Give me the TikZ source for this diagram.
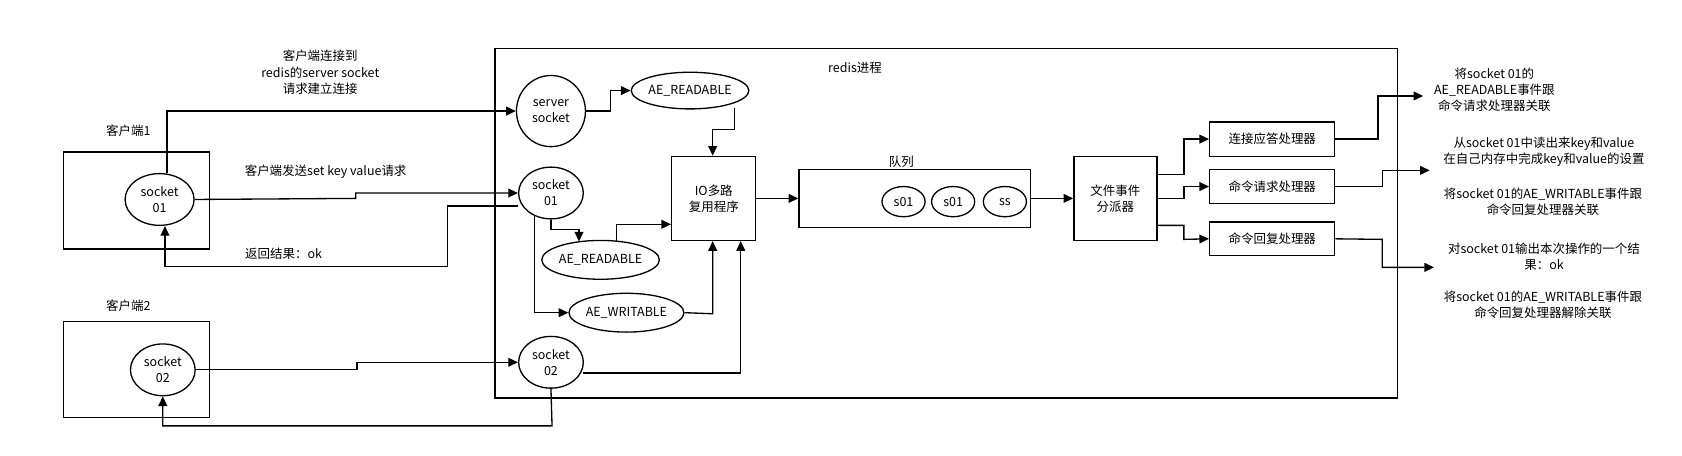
\documentclass[tikz,border=0pt]{standalone}
\usepackage{fontspec}
\setmainfont{Noto Sans CJK SC}
\usetikzlibrary{shapes.geometric,arrows.meta}
\newlength{\uu}\setlength{\uu}{0.02156cm}
\begin{document}
\begin{tikzpicture}[x=\uu,y=-\uu,
  every node/.style={font=\fontsize{7.1}{9.2}\selectfont,inner sep=0pt,align=center},
  box/.style={draw,line width=0.75pt},
  el/.style={draw,line width=0.75pt,ellipse},
  ar/.style={line width=0.75pt,-{Triangle[length=5.5pt,width=5pt]}}]
\useasboundingbox (0,0) rectangle (1560,422);
\node[box,minimum width=837\uu,minimum height=324\uu] (redis) at (877.5,207) {};
\node (rt) at (793,63) {redis进程};
\node[box,minimum width=135\uu,minimum height=90\uu] (c1) at (126.5,186) {};
\node (c1l) at (119,121) {客户端1};
\node[el,minimum width=64\uu,minimum height=48\uu] (cs1) at (148,185) {socket\\01};
\node[box,minimum width=135\uu,minimum height=89\uu] (c2) at (126.5,342.5) {};
\node (c2l) at (119,284) {客户端2};
\node[el,minimum width=60\uu,minimum height=48\uu] (cs2) at (151,343) {socket\\02};
\node[el,minimum width=64\uu,minimum height=66\uu] (ss) at (511,103) {server\\socket};
\node[el,minimum width=104\uu,minimum height=34\uu] (aer1) at (640,84) {AE\_READABLE};
\node[el,minimum width=60\uu,minimum height=48\uu] (s1) at (511,179) {socket\\01};
\node[box,minimum width=78\uu,minimum height=78\uu] (io) at (662,184) {IO多路\\复用程序};
\node[el,minimum width=104\uu,minimum height=36\uu] (aer2) at (557,241) {AE\_READABLE};
\node[el,minimum width=104\uu,minimum height=36\uu] (aew) at (581,290) {AE\_WRITABLE};
\node[el,minimum width=60\uu,minimum height=48\uu] (s2) at (511,336) {socket\\02};
\node[box,minimum width=215\uu,minimum height=54\uu] (q) at (848.5,184) {};
\node (ql) at (836,150) {队列};
\node[el,minimum width=40\uu,minimum height=28\uu] (q1) at (838,187) {s01};
\node[el,minimum width=40\uu,minimum height=28\uu] (q2) at (884,187) {s01};
\node[el,minimum width=40\uu,minimum height=28\uu] (q3) at (932,187) {ss};
\node[box,minimum width=77\uu,minimum height=78\uu] (d) at (1034.5,184) {文件事件\\分派器};
\node[box,minimum width=116\uu,minimum height=32\uu] (h1) at (1180,129) {连接应答处理器};
\node[box,minimum width=116\uu,minimum height=32\uu] (h2) at (1180,173) {命令请求处理器};
\node[box,minimum width=116\uu,minimum height=31\uu] (h3) at (1180,221.5) {命令回复处理器};
\coordinate (e1) at (1320,89);
\coordinate (e2) at (1326,158);
\coordinate (e3) at (1330,248);
\node (t0) at (297,67) {客户端连接到\\redis的server socket\\请求建立连接};
\node (t1) at (302,159) {客户端发送set key value请求};
\node (t2) at (263,235) {返回结果：ok};
\node (r1) at (1386,83) {将socket 01的\\AE\_READABLE事件跟\\命令请求处理器关联};
\node (r2) at (1432,141) {从socket 01中读出来key和value\\在自己内存中完成key和value的设置};
\node (r3) at (1431,187) {将socket 01的AE\_WRITABLE事件跟\\命令回复处理器关联};
\node (r4) at (1432,238) {对socket 01输出本次操作的一个结\\果：ok};
\node (r5) at (1431,283) {将socket 01的AE\_WRITABLE事件跟\\命令回复处理器解除关联};
% connectors
\draw[ar] (cs1.north -| 155,0) |- (ss.west);
\draw[ar] (cs1.east) -- (330,184) -- (330,179) -- (s1.west);
\draw[ar] (s1.west |- 0,191) -- (415,191) -- (415,247) -- (153,247) -- (cs1.south -| 153,0);
\draw[ar] (ss.east) -- (566,103) -- (566,84) -- (aer1.west);
\draw[ar] (681,100) -- (681,120) -- (661,120) -- (io.north -| 661,0);
\draw[ar] (s1.south) -- (511,213) -- (537,213) -- (537,224);
\draw[ar] (572,224) -- (572,208) -- (io.west |- 0,208);
\draw[ar] (496,200) -- (496,290) -- (aew.west);
\draw[ar] (aew.east) -- (661,291) -- (io.south -| 661,0);
\draw[ar] (541,346) -- (687,346) -- (io.south -| 687,0);
\draw[ar] (cs2.east) -- (331,343) -- (331,336) -- (s2.west);
\draw[ar] (s2.south) -- (512,395) -- (151,395) -- (cs2.south);
\draw[ar] (io.east) -- (q.west);
\draw[ar] (q.east) -- (d.west);
\draw[ar] (d.east |- 0,162) -- (1098,162) -- (1098,129) -- (h1.west);
\draw[ar] (d.east |- 0,184) -- (1098,184) -- (1098,173) -- (h2.west);
\draw[ar] (d.east |- 0,209) -- (1098,209) -- (1098,222) -- (h3.west);
\draw[ar] (h1.east) -- (1278,129) -- (1278,89) -- (e1);
\draw[ar] (h2.east) -- (1282,173) -- (1282,158) -- (e2);
\draw[ar] (h3.east) -- (1282,222) -- (1282,248) -- (e3);
\end{tikzpicture}
\end{document}
